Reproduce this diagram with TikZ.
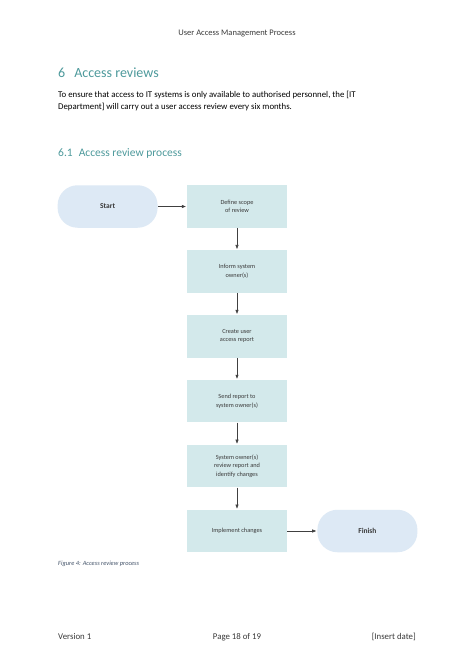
\documentclass[tikz,border=0pt]{standalone}
\usepackage{fontspec}
\setmainfont{Carlito}
\usetikzlibrary{positioning,arrows.meta}
\definecolor{headteal}{HTML}{4E9A9C}
\definecolor{boxteal}{HTML}{D3E9EB}
\definecolor{termblue}{HTML}{DDE9F5}
\definecolor{linegray}{HTML}{404040}
\definecolor{textgray}{HTML}{3A3A3A}
\definecolor{captionblue}{HTML}{44546A}
\begin{document}
\begin{tikzpicture}[
            x=1pt, y=-1pt,
            step box/.style={rectangle, fill=boxteal, minimum width=100pt, minimum height=42.5pt, align=center, font=\fontsize{6.3}{8.3}\selectfont, text=textgray},
            term box/.style={rectangle, rounded corners=20pt, fill=termblue, minimum width=100pt, minimum height=42.5pt, align=center, font=\fontsize{7.5}{9}\selectfont\bfseries, text=textgray},
            arrow/.style={-{Triangle[length=4pt,width=3pt]}, linegray, line width=0.6pt, shorten >=1pt}
        ]
        \useasboundingbox[fill=white] (0,0) rectangle (474,670);
        % page text
        \node[font=\fontsize{8.5}{10}\selectfont, text=textgray] (header) at (237,34) {User Access Management Process};
        \node[anchor=west, font=\fontsize{14}{16}\selectfont, text=headteal, inner sep=0pt] (sec) at (58,73) {6\hspace{9pt}Access reviews};
        \node[anchor=north west, align=left, font=\fontsize{8.8}{12}\selectfont, text=black, inner sep=0pt] (intro) at (58,91) {To ensure that access to IT systems is only available to authorised personnel, the [IT\\Department] will carry out a user access review every six months.};
        \node[anchor=west, font=\fontsize{11.5}{14}\selectfont, text=headteal, inner sep=0pt] (subsec) at (58,153) {6.1\hspace{6pt}Access review process};

        % flowchart
        \node[step box] (scope) at (237,206.5) {Define scope\\of review};
        \node[step box, below=22pt of scope] (inform) {Inform system\\owner(s)};
        \node[step box, below=22pt of inform] (create) {Create user\\access report};
        \node[step box, below=22pt of create] (send) {Send report to\\system owner(s)};
        \node[step box, below=22pt of send] (review) {System owner(s)\\review report and\\identify changes};
        \node[step box, below=22pt of review] (implement) {Implement changes};
        \node[term box, left=29pt of scope] (start) {Start};
        \node[term box, right=30pt of implement] (finish) {Finish};

        \draw[arrow] (start) -- (scope);
        \draw[arrow] (scope) -- (inform);
        \draw[arrow] (inform) -- (create);
        \draw[arrow] (create) -- (send);
        \draw[arrow] (send) -- (review);
        \draw[arrow] (review) -- (implement);
        \draw[arrow] (implement) -- (finish);

        \node[anchor=west, font=\fontsize{6.4}{8}\selectfont\itshape, text=captionblue, inner sep=0pt] (caption) at (58,563.5) {Figure 4: Access review process};

        % footer
        \node[anchor=base west, font=\fontsize{8.8}{10}\selectfont, text=textgray, inner sep=0pt] (version) at (58,639) {Version 1};
        \node[anchor=base, font=\fontsize{8.8}{10}\selectfont, text=textgray, inner sep=0pt] (page) at (237,639) {Page 18 of 19};
        \node[anchor=base east, font=\fontsize{8.8}{10}\selectfont, text=textgray, inner sep=0pt] (date) at (416,639) {[Insert date]};
        \end{tikzpicture}
\end{document}
